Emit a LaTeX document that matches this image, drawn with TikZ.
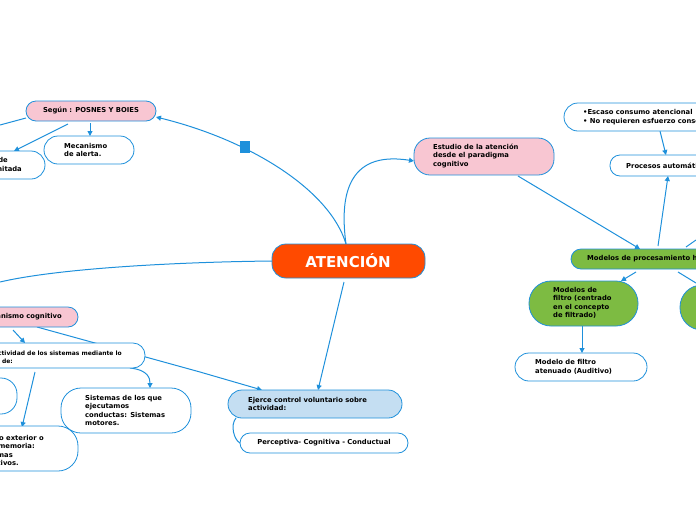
\documentclass[tikz,border=0pt]{standalone}
\usepackage{fontspec}
\setmainfont{DejaVu Sans}
\usetikzlibrary{arrows.meta}
\definecolor{bl}{HTML}{1E90DB}
\definecolor{pk}{HTML}{F8C6D2}
\definecolor{gr}{HTML}{7DBB42}
\definecolor{lb}{HTML}{C4DEF2}
\definecolor{orr}{HTML}{FF4A00}
\tikzset{
 bx/.style={draw=bl,line width=0.8pt,fill=white},
 tx/.style={align=left,inner sep=0pt,font=\fontsize{6.8}{8.5}\selectfont\bfseries},
 con/.style={draw=bl,line width=1pt},
 arr/.style={con,-{Triangle[width=5pt,length=5pt]}}
}
\begin{document}
\begin{tikzpicture}[x=1pt,y=-1pt]
\clip (0,0) rectangle (696,520);
% connectors behind nodes
\draw[con] (37,327) -- (200,372);
\draw[arr] (200,372) -- (262,390);
\draw[con] (0,125) -- (26,118);
\draw[arr] (346,244) .. controls (330,190) and (250,140) .. (156,117);
\fill[bl] (240,141) rectangle (250,153);
\draw[arr] (346,244) .. controls (340,200) and (345,150) .. (414,161);
\draw[con] (272,261) .. controls (180,262) and (60,268) .. (0,282);
\draw[arr] (344,282) -- (318,390);
\draw[arr] (518,176) -- (640,249);
\draw[arr] (658,246) -- (668,176);
\draw[arr] (660,131) -- (666,155);
\draw[con] (696,240) -- (686,247);
\draw[arr] (636,272) -- (621,281);
\draw[con] (678,272) -- (696,283);
\draw[arr] (582,326) -- (582,353);
\draw[arr] (68,124) -- (14,151);
\draw[arr] (90,123) -- (90,136);
\draw[arr] (13,330) -- (25,343);
\draw[arr] (35,372) -- (22,427);
\draw[arr] (130,368) .. controls (148,370) and (150,378) .. (150,388);
\draw[con] (236,418) .. controls (230,425) and (234,440) .. (240,443);
% nodes
\path[bx,fill=pk,rounded corners=10] (26,101) rectangle (156,121);
\node[tx] (sgn) at (91,111) {Según : POSNES Y BOIES};
\path[bx,rounded corners=14] (44,136) rectangle (134,164);
\node[tx,anchor=west] (mec) at (64,150) {Mecanismo\\de alerta.};
\path[bx,rounded corners=14] (-90,151) rectangle (45,179);
\node[tx,anchor=base east] (cap1) at (8,162) {Recurso de};
\node[tx,anchor=base east] (cap2) at (22,171) {capacidad limitada};
\path[fill=orr,draw=bl,line width=0.8pt,rounded corners=14] (272,244) rectangle (425,278);
\node[text=white,font=\fontsize{15}{18}\selectfont\bfseries] (aten) at (348,261) {ATENCIÓN};
\path[bx,fill=pk,rounded corners=16] (414,138) rectangle (554,175);
\node[tx,anchor=west] (estn) at (433,156) {Estudio de la atención\\desde el paradigma\\cognitivo};
\path[bx,rounded corners=14] (564,103) rectangle (800,131);
\node[tx,anchor=west] (esc) at (583,117) {•Escaso consumo atencional\\• No requieren esfuerzo consciente};
\path[bx,rounded corners=10] (610,155) rectangle (800,176);
\node[tx,anchor=west] (proc) at (626,165.5) {Procesos automáticos};
\path[bx,fill=gr,rounded corners=10] (571,249) rectangle (820,269);
\node[tx,anchor=west] (mpn) at (587,259) {Modelos de procesamiento humano};
\path[bx,fill=gr,rounded corners=22] (529,281) rectangle (638,326);
\node[tx,anchor=west] (filn) at (553,303) {Modelos de\\filtro (centrado\\en el concepto\\de filtrado)};
\path[bx,fill=gr,rounded corners=22] (680,285) rectangle (800,330);
\path[bx,rounded corners=14] (515,353) rectangle (647,381);
\node[tx,anchor=west] (aten2) at (535,367) {Modelo de filtro\\atenuado (Auditivo)};
\path[bx,fill=pk,rounded corners=10] (-80,307) rectangle (78,327);
\node[tx,anchor=east] (cogn) at (62,317) {Mecanismo cognitivo};
\path[bx,rounded corners=12] (-120,343) rectangle (145,368);
\node[tx,anchor=base east,font=\fontsize{6}{8}\selectfont\bfseries] (act1) at (122,355) {Regula la actividad de los sistemas mediante lo};
\node[tx,anchor=base east,font=\fontsize{6}{8}\selectfont\bfseries] (act2) at (13,363) {que se conoce de:};
\path[bx,rounded corners=16] (-80,378) rectangle (17,414);
\path[bx,rounded corners=20] (-120,426) rectangle (78,471);
\node[tx,anchor=base east] (ext1) at (44,440) {Del mundo exterior o};
\node[tx,anchor=base east] (ext2) at (35,448.5) {de la memoria:};
\node[tx,anchor=base east] (ext3) at (13,457) {Sistemas};
\node[tx,anchor=base east] (ext4) at (19,465.5) {perceptivos.};
\path[bx,rounded corners=20] (61,388) rectangle (191,433);
\node[tx,anchor=west] (sis) at (85,410.5) {Sistemas de los que\\ejecutamos\\conductas: Sistemas\\motores.};
\path[bx,fill=lb,rounded corners=14] (228,390) rectangle (402,418);
\node[tx,anchor=west] (ejn) at (248,404) {Ejerce control voluntario sobre\\actividad:};
\path[bx,rounded corners=10] (240,433) rectangle (408,453);
\node[tx] (per) at (324,443) {Perceptiva- Cognitiva - Conductual};
\end{tikzpicture}
\end{document}
